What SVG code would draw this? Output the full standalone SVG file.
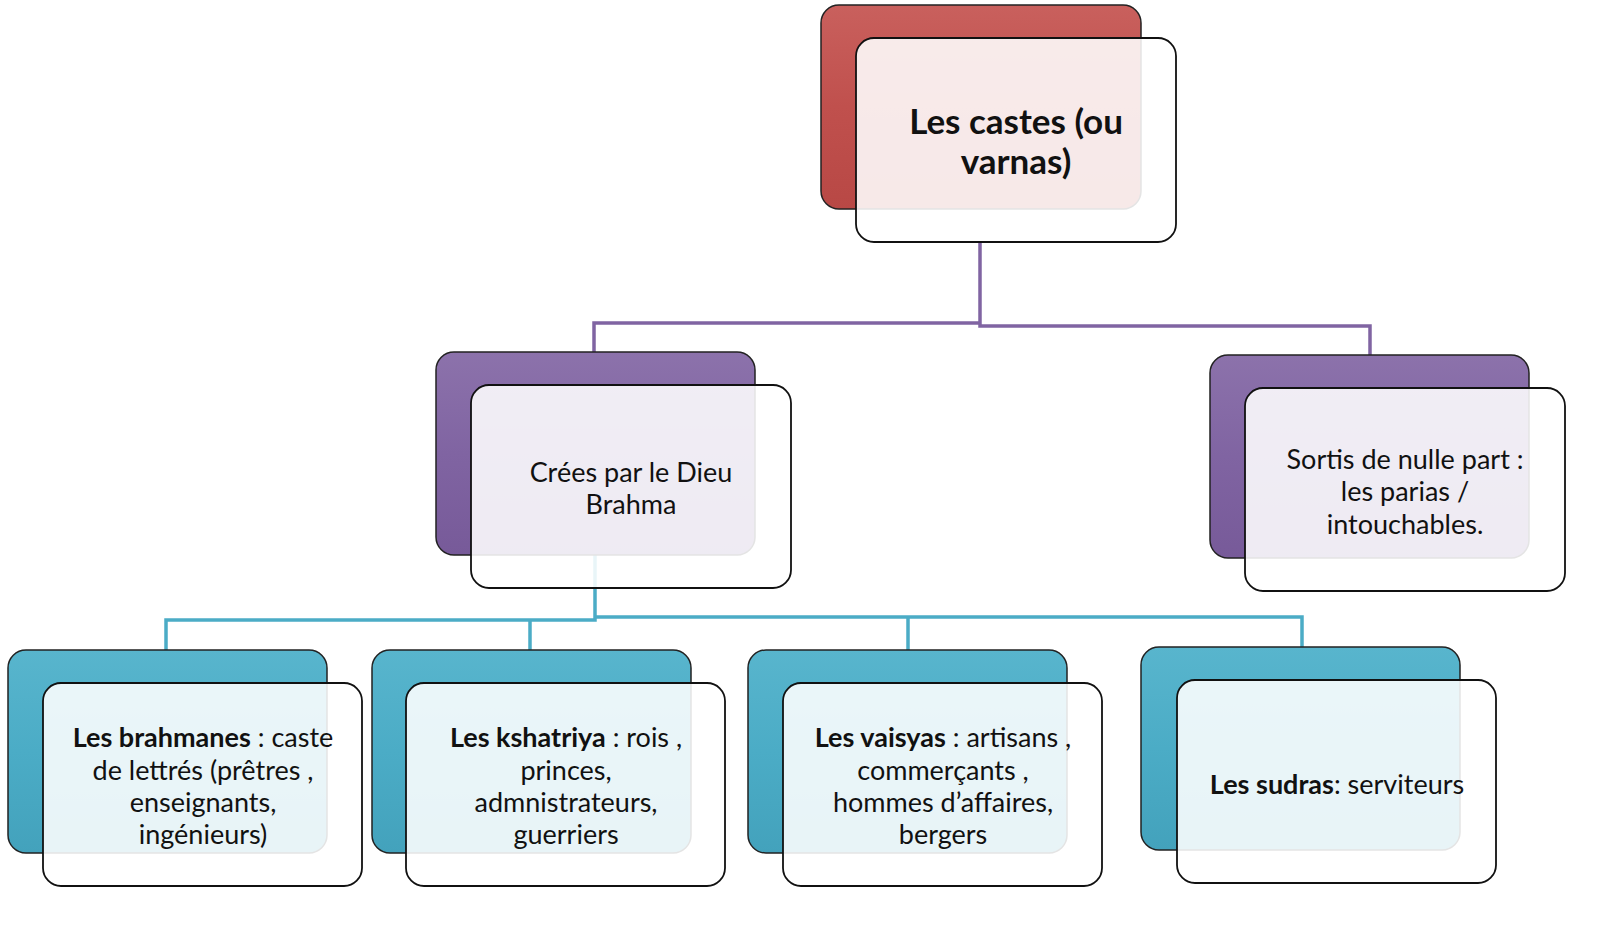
<svg xmlns="http://www.w3.org/2000/svg" width="1600" height="927" viewBox="0 0 1600 927">
<defs>
<style>
.back{stroke:#222;stroke-width:1.5}
.front{fill:#fff;fill-opacity:0.88;stroke:#111;stroke-width:1.8}
text{font-family:Lato,"Open Sans",sans-serif;font-size:27px;fill:#111;text-anchor:middle}
.b{font-weight:bold}
.cp{fill:none;stroke:#8064A2;stroke-width:3.5}
.cb{fill:none;stroke:#4BACC6;stroke-width:3.5}
</style>
<linearGradient id="gr" x1="0" y1="0" x2="0" y2="1"><stop offset="0" stop-color="#c9605d"/><stop offset="0.5" stop-color="#C0504D"/><stop offset="1" stop-color="#b84845"/></linearGradient>
<linearGradient id="gp" x1="0" y1="0" x2="0" y2="1"><stop offset="0" stop-color="#8c72ab"/><stop offset="0.5" stop-color="#8064A2"/><stop offset="1" stop-color="#775a99"/></linearGradient>
<linearGradient id="gb" x1="0" y1="0" x2="0" y2="1"><stop offset="0" stop-color="#58b5cd"/><stop offset="0.5" stop-color="#4BACC6"/><stop offset="1" stop-color="#43a2bc"/></linearGradient>
</defs>
<g id="connectors">
<path class="cp" d="M980 242V323H594V352M980 323V326H1370V355"/>
<path class="cb" d="M595 555V620H166V650M530 620V650M595 620V617H1302V647M908 617V650"/>
</g>
<g id="n-root">
<rect class="back" x="821" y="5" width="320" height="204" rx="18" fill="url(#gr)"/>
<rect class="front" x="856" y="38" width="320" height="204" rx="18"/>
<text class="b" style="font-size:35px" x="1016" y="134">Les castes (ou</text>
<text class="b" style="font-size:35px" x="1016" y="174">varnas)</text>
</g>
<g id="n-brahma">
<rect class="back" x="436" y="352" width="319" height="203" rx="18" fill="url(#gp)"/>
<rect class="front" x="471" y="385" width="320" height="203" rx="18"/>
<text x="631" y="482">Crées par le Dieu</text>
<text x="631" y="514">Brahma</text>
</g>
<g id="n-parias">
<rect class="back" x="1210" y="355" width="319" height="203" rx="18" fill="url(#gp)"/>
<rect class="front" x="1245" y="388" width="320" height="203" rx="18"/>
<text x="1405" y="469">Sortis de nulle part :</text>
<text x="1405" y="501">les parias /</text>
<text x="1405" y="534">intouchables.</text>
</g>
<g id="n-brahmanes">
<rect class="back" x="8" y="650" width="319" height="203" rx="18" fill="url(#gb)"/>
<rect class="front" x="43" y="683" width="319" height="203" rx="18"/>
<text x="203" y="747"><tspan class="b">Les brahmanes</tspan> : caste</text>
<text x="203" y="780">de lettrés (prêtres ,</text>
<text x="203" y="812">enseignants,</text>
<text x="203" y="844">ingénieurs)</text>
</g>
<g id="n-kshatriya">
<rect class="back" x="372" y="650" width="319" height="203" rx="18" fill="url(#gb)"/>
<rect class="front" x="406" y="683" width="319" height="203" rx="18"/>
<text x="566" y="747"><tspan class="b">Les kshatriya</tspan> : rois ,</text>
<text x="566" y="780">princes,</text>
<text x="566" y="812">admnistrateurs,</text>
<text x="566" y="844">guerriers</text>
</g>
<g id="n-vaisyas">
<rect class="back" x="748" y="650" width="319" height="203" rx="18" fill="url(#gb)"/>
<rect class="front" x="783" y="683" width="319" height="203" rx="18"/>
<text x="943" y="747"><tspan class="b">Les vaisyas</tspan> : artisans ,</text>
<text x="943" y="780">commerçants ,</text>
<text x="943" y="812">hommes d’affaires,</text>
<text x="943" y="844">bergers</text>
</g>
<g id="n-sudras">
<rect class="back" x="1141" y="647" width="319" height="203" rx="18" fill="url(#gb)"/>
<rect class="front" x="1177" y="680" width="319" height="203" rx="18"/>
<text x="1337" y="794"><tspan class="b">Les sudras</tspan>: serviteurs</text>
</g>
</svg>
